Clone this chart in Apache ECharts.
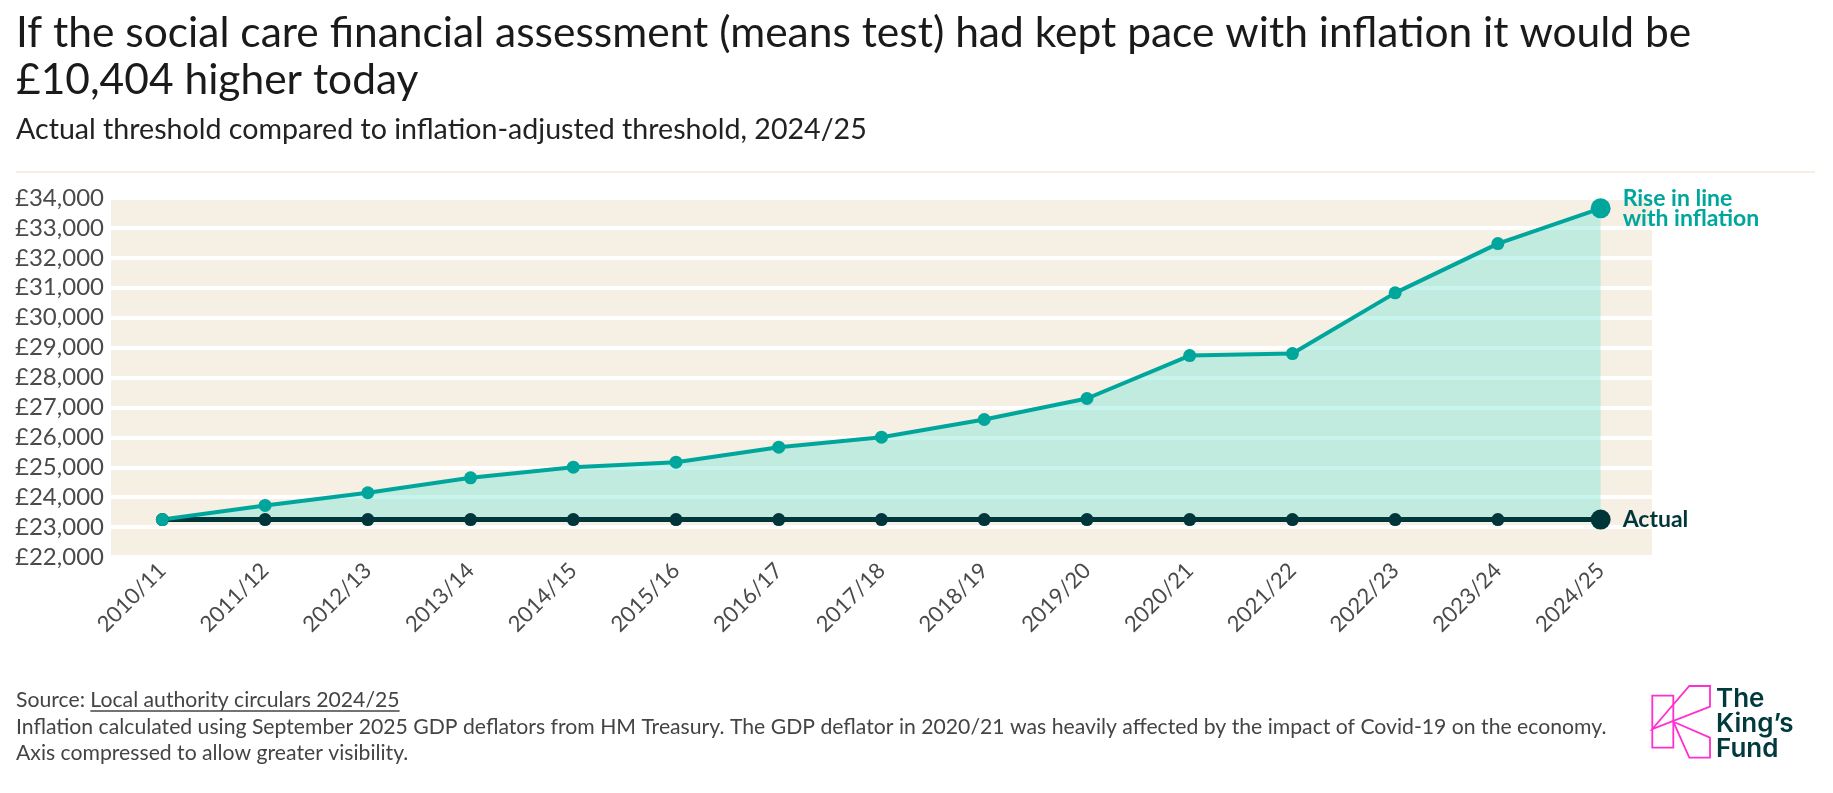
<!DOCTYPE html>
<html>
<head>
<meta charset="utf-8">
<script src="https://cdn.jsdelivr.net/npm/echarts@6/dist/echarts.min.js"></script>
<style>
  html, body { margin: 0; padding: 0; background: #fff; }
  #main { width: 1833px; height: 793px; }
</style>
</head>
<body>
<div id="main"></div>
<script>
const years = ["2010/11", "2011/12", "2012/13", "2013/14", "2014/15", "2015/16", "2016/17",
  "2017/18", "2018/19", "2019/20", "2020/21", "2021/22", "2022/23", "2023/24", "2024/25"];
const actual = [23250, 23250, 23250, 23250, 23250, 23250, 23250, 23250,
  23250, 23250, 23250, 23250, 23250, 23250, 23250];
const inflation = [23250, 23723, 24147, 24648, 25002, 25169, 25671, 26005,
  26596, 27298, 28734, 28801, 30829, 32476, 33654];
const yMin = 22000;
const yMax = 34000;
const yStep = 1000;

const teal = "#00a69c";
const dark = "#00363a";
const font = "Lato";

// gap between the two lines, stacked on top of the actual line for the shaded area
const gap = inflation.map((v, i) => v - actual[i]);
const last = years.length - 1;
const markerSize = (v, p) => (p.dataIndex === last ? 20 : 13);

// width of the underlined source text, so the underline fits it
const footFont = "21.2px Lato";
const ctx = document.createElement("canvas").getContext("2d");
ctx.font = footFont;
const srcX = 16 + ctx.measureText("Source: ").width;
const srcW = ctx.measureText("Local authority circulars 2024/25").width;

const chart = echarts.init(document.querySelector("#main"));

const options = {
  animation: false,
  backgroundColor: "#fff",
  textStyle: { fontFamily: font },
  grid: {
    left: 111, right: 181, top: 198, height: 359,
    show: true, backgroundColor: "#f5efe4", borderWidth: 0
  },
  xAxis: {
    type: "category",
    data: years,
    boundaryGap: true,
    axisLine: { show: false },
    axisTick: { show: false },
    axisLabel: { rotate: 45, fontSize: 22, color: "#4a4a4a", margin: 10, fontFamily: font }
  },
  yAxis: {
    type: "value",
    min: yMin, max: yMax, interval: yStep,
    axisLine: { show: false },
    axisTick: { show: false },
    splitLine: { show: true, lineStyle: { color: "#fff", width: 4 } },
    axisLabel: {
      fontSize: 24, color: "#4a4a4a", margin: 7, fontFamily: font,
      formatter: (v) => "£" + v.toLocaleString("en-GB")
    }
  },
  series: [
    {
      name: "base", type: "line", stack: "a", data: actual,
      showSymbol: false, lineStyle: { width: 0 }, silent: true
    },
    {
      name: "gap", type: "line", stack: "a", data: gap,
      showSymbol: false, lineStyle: { width: 0 }, silent: true,
      areaStyle: { color: "rgba(115, 229, 212, 0.4)", opacity: 1 }
    },
    {
      name: "Actual", type: "line", data: actual,
      symbol: "circle", symbolSize: markerSize,
      lineStyle: { color: dark, width: 5 },
      itemStyle: { color: dark },
      endLabel: {
        show: true, formatter: "Actual", distance: 22,
        fontSize: 23, fontWeight: "bold", color: dark, fontFamily: font
      }
    },
    {
      name: "Rise in line with inflation", type: "line", data: inflation,
      symbol: "circle", symbolSize: markerSize,
      lineStyle: { color: teal, width: 4 },
      itemStyle: { color: teal },
      endLabel: {
        show: true, formatter: "Rise in line\nwith inflation", distance: 22,
        fontSize: 23, lineHeight: 20, fontWeight: "bold", color: teal, fontFamily: font
      }
    }
  ],
  graphic: [
    {
      type: "text", left: 16, top: 10,
      style: {
        text: "If the social care financial assessment (means test) had kept pace with inflation it would be\n£10,404 higher today",
        font: "42.5px Lato", lineHeight: 47, fill: "#1a1a1a"
      }
    },
    {
      type: "text", left: 16, top: 115,
      style: {
        text: "Actual threshold compared to inflation-adjusted threshold, 2024/25",
        font: "28.6px Lato", fill: "#222"
      }
    },
    {
      type: "line", shape: { x1: 16, y1: 172, x2: 1815, y2: 172 },
      style: { stroke: "#f3ead9", lineWidth: 1.5 }
    },
    {
      type: "text", left: 16, top: 687,
      style: {
        text: "Source: Local authority circulars 2024/25\nInflation calculated using September 2025 GDP deflators from HM Treasury. The GDP deflator in 2020/21 was heavily affected by the impact of Covid-19 on the economy.\nAxis compressed to allow greater visibility.",
        font: footFont, lineHeight: 26.5, fill: "#444"
      }
    },
    {
      type: "line", shape: { x1: srcX, y1: 711, x2: srcX + srcW, y2: 711 },
      style: { stroke: "#444", lineWidth: 1.3 }
    },
    // The King's Fund logo
    {
      type: "rect", shape: { x: 1652.3, y: 695.7, width: 21, height: 52 },
      style: { fill: "none", stroke: "#ff2fd0", lineWidth: 1.8 }
    },
    {
      type: "polygon",
      shape: { points: [[1652.3, 729], [1689.3, 686], [1710, 686], [1710, 706.7]] },
      style: { fill: "none", stroke: "#ff2fd0", lineWidth: 1.8 }
    },
    {
      type: "polygon",
      shape: { points: [[1673.3, 721.7], [1710, 737.7], [1710, 757.7], [1689.3, 757.7]] },
      style: { fill: "none", stroke: "#ff2fd0", lineWidth: 1.8 }
    },
    {
      type: "text", left: 1716, top: 686,
      style: {
        text: "The\nKing’s\nFund",
        font: "600 26px Inter", lineHeight: 25, fill: "#003a3d"
      }
    }
  ]
};

chart.setOption(options);
window.onresize = function() {
  chart.resize();
};
</script>
</body>
</html>
